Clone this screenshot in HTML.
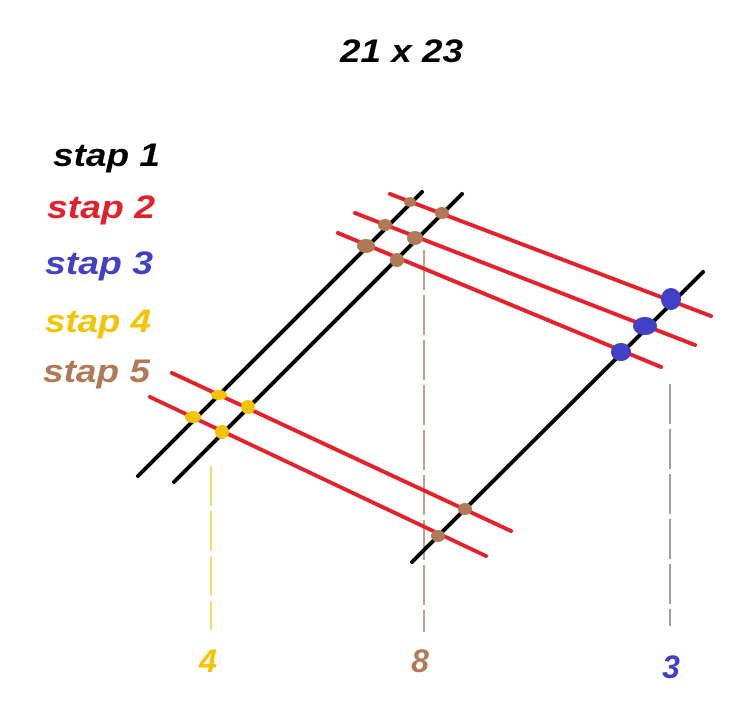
<!DOCTYPE html>
<html><head><style>
html,body{margin:0;padding:0;background:#fff;}
svg{display:block}
text{font-family:"Liberation Sans",sans-serif;font-weight:bold;font-style:italic;}
</style></head><body>
<svg width="748" height="710" viewBox="0 0 748 710" xmlns="http://www.w3.org/2000/svg">
<text x="340" y="62" font-size="32" textLength="123" lengthAdjust="spacingAndGlyphs" fill="#000">21 x 23</text>
<text x="53" y="166" font-size="32" textLength="107" lengthAdjust="spacingAndGlyphs" fill="#000">stap 1</text>
<text x="47" y="218" font-size="32" textLength="108" lengthAdjust="spacingAndGlyphs" fill="#e5202a">stap 2</text>
<text x="45" y="274" font-size="32" textLength="108" lengthAdjust="spacingAndGlyphs" fill="#4040c8">stap 3</text>
<text x="45" y="332" font-size="32" textLength="106" lengthAdjust="spacingAndGlyphs" fill="#f5c400">stap 4</text>
<text x="43" y="382" font-size="32" textLength="107" lengthAdjust="spacingAndGlyphs" fill="#b07a56">stap 5</text>
<g stroke-dasharray="40 5" stroke-width="1.5">
<line x1="211" y1="466" x2="211" y2="630" stroke="#f0d030"/>
<line x1="424" y1="250" x2="424" y2="632" stroke="#b08060"/>
<line x1="670" y1="384" x2="670" y2="626" stroke="#808080"/>
</g>
<g stroke="#000" stroke-width="4" stroke-linecap="round">
<line x1="138" y1="476" x2="422" y2="192"/>
<line x1="174" y1="482" x2="462" y2="194"/>
<line x1="412" y1="562" x2="703" y2="272"/>
</g>
<g stroke="#e5202a" stroke-width="4" stroke-linecap="round">
<line x1="390" y1="194" x2="711" y2="316"/>
<line x1="355" y1="213" x2="695" y2="345"/>
<line x1="338" y1="233" x2="661" y2="367"/>
<line x1="172" y1="373" x2="511" y2="531"/>
<line x1="150" y1="397" x2="486" y2="556"/>
</g>
<g fill="#b07a56">
<ellipse cx="410" cy="202" rx="6" ry="5"/>
<ellipse cx="442" cy="213" rx="7" ry="6"/>
<ellipse cx="385" cy="225" rx="7" ry="6"/>
<ellipse cx="415" cy="238" rx="8" ry="7"/>
<ellipse cx="366" cy="246" rx="9" ry="7"/>
<ellipse cx="397" cy="260" rx="7" ry="7"/>
<ellipse cx="465" cy="509" rx="7" ry="6"/>
<ellipse cx="438" cy="536" rx="7" ry="6"/>
</g>
<g fill="#4040c8">
<ellipse cx="671" cy="299" rx="10" ry="11"/>
<ellipse cx="645" cy="326" rx="12" ry="9"/>
<ellipse cx="621" cy="352" rx="10" ry="9"/>
</g>
<g fill="#f5c400">
<ellipse cx="219" cy="395" rx="8" ry="5"/>
<ellipse cx="248" cy="407" rx="7" ry="7"/>
<ellipse cx="193" cy="417" rx="8" ry="6"/>
<ellipse cx="222" cy="432" rx="7" ry="7"/>
</g>
<text x="208" y="672" font-size="32" text-anchor="middle" fill="#f5c400">4</text>
<text x="420" y="672" font-size="32" text-anchor="middle" fill="#b07a56">8</text>
<text x="671" y="678" font-size="32" text-anchor="middle" fill="#4040c8" font-style="normal">3</text>
</svg>
</body></html>
